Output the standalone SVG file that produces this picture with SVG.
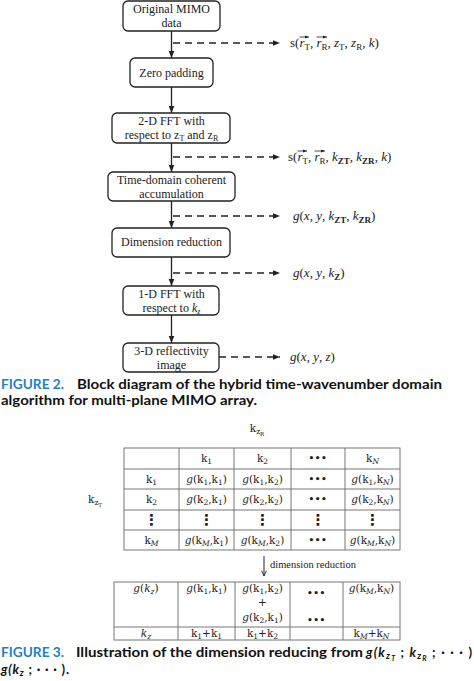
<svg xmlns="http://www.w3.org/2000/svg" width="474" height="681" viewBox="0 0 474 681">
<style>
.bx{fill:#fff;stroke:#222;stroke-width:1.3}
.bt{font-family:"Liberation Serif",serif;font-size:12px;fill:#222;text-anchor:middle}
.ln{stroke:#222;stroke-width:1.3;fill:none}
.dl{stroke:#222;stroke-width:1.3;fill:none;stroke-dasharray:7,5}
.m{font-family:"Liberation Serif",serif;font-size:13px;fill:#222}
.i{font-style:italic}
.sb{font-size:9px}
.cap{font-family:Lato,"Open Sans",sans-serif;font-weight:700;font-size:13px;fill:#111}
.blue{fill:#1f82c4}
.tl{stroke:#777;stroke-width:1;fill:none}
.t{font-family:"DejaVu Serif",serif;font-size:10.5px;fill:#222;text-anchor:middle}
.s{font-size:7.5px}
.dots{font-family:"DejaVu Sans",sans-serif;font-size:9px;fill:#222;text-anchor:middle;letter-spacing:0.5px;font-weight:700}
.vd{font-family:"DejaVu Sans",sans-serif;font-size:15px;fill:#222;text-anchor:middle;font-weight:700}
</style>
<defs>
<marker id="ah" viewBox="0 0 10 10" refX="10" refY="5" markerWidth="7" markerHeight="7" markerUnits="userSpaceOnUse" orient="auto"><path d="M0,1 L10,5 L0,9 z" fill="#222"/></marker>
<marker id="oa" viewBox="0 0 10 10" refX="10" refY="5" markerWidth="4" markerHeight="4" markerUnits="userSpaceOnUse" orient="auto"><path d="M0,1 L10,5 L0,9 z" fill="#222"/></marker>
<marker id="va" viewBox="0 0 10 10" refX="10" refY="5" markerWidth="6" markerHeight="6" markerUnits="userSpaceOnUse" orient="auto"><path d="M1,1 L10,5 L1,9" fill="none" stroke="#222" stroke-width="1.4"/></marker>
</defs>

<g id="connectors">
<line class="ln" x1="171.5" y1="31" x2="171.5" y2="58" marker-end="url(#ah)"/>
<line class="ln" x1="171.5" y1="87" x2="171.5" y2="113" marker-end="url(#ah)"/>
<line class="ln" x1="171.5" y1="143" x2="171.5" y2="172" marker-end="url(#ah)"/>
<line class="ln" x1="171.5" y1="201" x2="171.5" y2="228" marker-end="url(#ah)"/>
<line class="ln" x1="171.5" y1="257" x2="171.5" y2="286" marker-end="url(#ah)"/>
<line class="ln" x1="171.5" y1="315" x2="171.5" y2="343" marker-end="url(#ah)"/>
<line class="dl" x1="173" y1="43" x2="280" y2="43" marker-end="url(#ah)"/>
<line class="dl" x1="173" y1="157" x2="280" y2="157" marker-end="url(#ah)"/>
<line class="dl" x1="173" y1="216" x2="280" y2="216" marker-end="url(#ah)"/>
<line class="dl" x1="173" y1="273" x2="280" y2="273" marker-end="url(#ah)"/>
<line class="dl" x1="219" y1="357" x2="280" y2="357" marker-end="url(#ah)"/>
<line x1="264" y1="556" x2="264" y2="576" stroke="#222" stroke-width="1" marker-end="url(#va)"/>
</g>

<g id="n1"><rect class="bx" x="123" y="1" width="97" height="30" rx="5"/>
<text class="bt" x="171.5" y="13">Original MIMO</text><text class="bt" x="171.5" y="27">data</text></g>
<g id="n2"><rect class="bx" x="130" y="58" width="83" height="29" rx="5"/>
<text class="bt" x="171.5" y="77">Zero padding</text></g>
<g id="n3"><rect class="bx" x="112" y="113" width="118" height="30" rx="5"/>
<text class="bt" x="171.5" y="125">2-D FFT with</text>
<text class="bt" x="171.5" y="139">respect to z<tspan font-size="8" dy="2">T</tspan><tspan dy="-2"> and z</tspan><tspan font-size="8" dy="2">R</tspan></text></g>
<g id="n4"><rect class="bx" x="108" y="172" width="127" height="29" rx="5"/>
<text class="bt" x="171.5" y="184">Time-domain coherent</text><text class="bt" x="171.5" y="198">accumulation</text></g>
<g id="n5"><rect class="bx" x="112" y="228" width="118" height="29" rx="5"/>
<text class="bt" x="171.5" y="246">Dimension reduction</text></g>
<g id="n6"><rect class="bx" x="123" y="286" width="96" height="29" rx="5"/>
<text class="bt" x="171.5" y="298">1-D FFT with</text>
<text class="bt" x="171.5" y="312">respect to <tspan class="i">k</tspan><tspan font-size="8" dy="2" class="i">z</tspan></text></g>
<g id="n7"><rect class="bx" x="123" y="343" width="96" height="29" rx="5"/>
<text class="bt" x="171.5" y="355">3-D reflectivity</text><text class="bt" x="171.5" y="369">image</text></g>

<g id="f1">
<text class="m" x="290" y="47">s(<tspan class="i">r</tspan><tspan class="sb" dy="3">T</tspan><tspan dy="-3">, </tspan><tspan class="i">r</tspan><tspan class="sb" dy="3">R</tspan><tspan dy="-3">, </tspan><tspan class="i">z</tspan><tspan class="sb" dy="3">T</tspan><tspan dy="-3">, </tspan><tspan class="i">z</tspan><tspan class="sb" dy="3">R</tspan><tspan dy="-3">, </tspan><tspan class="i">k</tspan>)</text>
<line x1="299.5" y1="37" x2="309" y2="37" stroke="#222" stroke-width="0.8" marker-end="url(#oa)"/>
<line x1="316.5" y1="37" x2="327" y2="37" stroke="#222" stroke-width="0.8" marker-end="url(#oa)"/>
</g>
<g id="f2">
<text class="m" x="288" y="161">s(<tspan class="i">r</tspan><tspan class="sb" dy="3">T</tspan><tspan dy="-3">, </tspan><tspan class="i">r</tspan><tspan class="sb" dy="3">R</tspan><tspan dy="-3">, </tspan><tspan class="i">k</tspan><tspan class="sb" dy="3" font-weight="700">ZT</tspan><tspan dy="-3">, </tspan><tspan class="i">k</tspan><tspan class="sb" dy="3" font-weight="700">ZR</tspan><tspan dy="-3">, </tspan><tspan class="i">k</tspan>)</text>
<line x1="297.5" y1="151" x2="307" y2="151" stroke="#222" stroke-width="0.8" marker-end="url(#oa)"/>
<line x1="314.5" y1="151" x2="325" y2="151" stroke="#222" stroke-width="0.8" marker-end="url(#oa)"/>
</g>
<g id="f3"><text class="m" x="293" y="220"><tspan class="i">g</tspan>(<tspan class="i">x</tspan>, <tspan class="i">y</tspan>, <tspan class="i">k</tspan><tspan class="sb" dy="3" font-weight="700">ZT</tspan><tspan dy="-3">, </tspan><tspan class="i">k</tspan><tspan class="sb" dy="3" font-weight="700">ZR</tspan><tspan dy="-3">)</tspan></text></g>
<g id="f4"><text class="m" x="293" y="277"><tspan class="i">g</tspan>(<tspan class="i">x</tspan>, <tspan class="i">y</tspan>, <tspan class="i">k</tspan><tspan class="sb" dy="3" font-weight="700">Z</tspan><tspan dy="-3">)</tspan></text></g>
<g id="f5"><text class="m" x="290" y="361"><tspan class="i">g</tspan>(<tspan class="i">x</tspan>, <tspan class="i">y</tspan>, <tspan class="i">z</tspan>)</text></g>

<g id="caption2">
<text class="cap blue" x="1" y="389" textLength="63" lengthAdjust="spacingAndGlyphs">FIGURE 2.</text>
<text class="cap" x="77" y="389" textLength="365" lengthAdjust="spacingAndGlyphs">Block diagram of the hybrid time-wavenumber domain</text>
<text class="cap" x="1" y="405" textLength="256" lengthAdjust="spacingAndGlyphs">algorithm for multi-plane MIMO array.</text>
</g>

<g id="table1">
<text class="t" x="257" y="432">k<tspan class="s" dy="2">z</tspan><tspan font-size="5.5" dy="1.5">R</tspan></text>
<text class="t" x="95" y="503">k<tspan class="s" dy="2">z</tspan><tspan font-size="5.5" dy="1.5">T</tspan></text>
<rect class="tl" x="124" y="448" width="276" height="102"/>
<path class="tl" d="M179,448V550M234,448V550M291,448V550M345,448V550M124,469H400M124,489H400M124,510H400M124,530H400"/>
<text class="t" x="206.5" y="462">k<tspan class="s" dy="2">1</tspan></text>
<text class="t" x="262.5" y="462">k<tspan class="s" dy="2">2</tspan></text>
<text class="dots" x="318" y="461">•••</text>
<text class="t" x="372.5" y="462">k<tspan class="s i" dy="2">N</tspan></text>

<text class="t" x="151.5" y="483">k<tspan class="s" dy="2">1</tspan></text>
<text class="t" x="206.5" y="483"><tspan class="i">g</tspan>(k<tspan class="s" dy="2">1</tspan><tspan dy="-2">,k</tspan><tspan class="s" dy="2">1</tspan><tspan dy="-2">)</tspan></text>
<text class="t" x="262.5" y="483"><tspan class="i">g</tspan>(k<tspan class="s" dy="2">1</tspan><tspan dy="-2">,k</tspan><tspan class="s" dy="2">2</tspan><tspan dy="-2">)</tspan></text>
<text class="dots" x="318" y="482">•••</text>
<text class="t" x="372.5" y="483"><tspan class="i">g</tspan>(k<tspan class="s" dy="2">1</tspan><tspan dy="-2">,k</tspan><tspan class="s i" dy="2">N</tspan><tspan dy="-2">)</tspan></text>

<text class="t" x="151.5" y="503">k<tspan class="s" dy="2">2</tspan></text>
<text class="t" x="206.5" y="503"><tspan class="i">g</tspan>(k<tspan class="s" dy="2">2</tspan><tspan dy="-2">,k</tspan><tspan class="s" dy="2">1</tspan><tspan dy="-2">)</tspan></text>
<text class="t" x="262.5" y="503"><tspan class="i">g</tspan>(k<tspan class="s" dy="2">2</tspan><tspan dy="-2">,k</tspan><tspan class="s" dy="2">2</tspan><tspan dy="-2">)</tspan></text>
<text class="dots" x="318" y="502">•••</text>
<text class="t" x="372.5" y="503"><tspan class="i">g</tspan>(k<tspan class="s" dy="2">2</tspan><tspan dy="-2">,k</tspan><tspan class="s i" dy="2">N</tspan><tspan dy="-2">)</tspan></text>

<text class="vd" x="151.5" y="525">⋮</text>
<text class="vd" x="206.5" y="525">⋮</text>
<text class="vd" x="262.5" y="525">⋮</text>
<text class="vd" x="318" y="525">⋮</text>
<text class="vd" x="372.5" y="525">⋮</text>

<text class="t" x="151.5" y="544">k<tspan class="s i" dy="2">M</tspan></text>
<text class="t" x="206.5" y="544"><tspan class="i">g</tspan>(k<tspan class="s i" dy="2">M</tspan><tspan dy="-2">,k</tspan><tspan class="s" dy="2">1</tspan><tspan dy="-2">)</tspan></text>
<text class="t" x="262.5" y="544"><tspan class="i">g</tspan>(k<tspan class="s i" dy="2">M</tspan><tspan dy="-2">,k</tspan><tspan class="s" dy="2">2</tspan><tspan dy="-2">)</tspan></text>
<text class="dots" x="318" y="543">•••</text>
<text class="t" x="372.5" y="544"><tspan class="i">g</tspan>(k<tspan class="s i" dy="2">M</tspan><tspan dy="-2">,k</tspan><tspan class="s i" dy="2">N</tspan><tspan dy="-2">)</tspan></text>
</g>

<text id="dimlabel" x="270" y="568" font-family="Liberation Serif, serif" font-size="10.5" fill="#222">dimension reduction</text>

<g id="table2">
<rect class="tl" x="114" y="582" width="286" height="58"/>
<path class="tl" d="M178,582V640M235,582V640M290,582V640M343,582V640M114,627H400"/>
<text class="t" x="146" y="592"><tspan class="i">g</tspan>(<tspan class="i">k</tspan><tspan class="s i" dy="2">z</tspan><tspan dy="-2">)</tspan></text>
<text class="t" x="206.5" y="592"><tspan class="i">g</tspan>(k<tspan class="s" dy="2">1</tspan><tspan dy="-2">,k</tspan><tspan class="s" dy="2">1</tspan><tspan dy="-2">)</tspan></text>
<text class="t" x="262.5" y="592"><tspan class="i">g</tspan>(k<tspan class="s" dy="2">1</tspan><tspan dy="-2">,k</tspan><tspan class="s" dy="2">2</tspan><tspan dy="-2">)</tspan></text>
<text class="t" x="262.5" y="606" font-size="9">+</text>
<text class="t" x="262.5" y="621"><tspan class="i">g</tspan>(k<tspan class="s" dy="2">2</tspan><tspan dy="-2">,k</tspan><tspan class="s" dy="2">1</tspan><tspan dy="-2">)</tspan></text>
<text class="dots" x="316.5" y="596">•••</text>
<text class="dots" x="316.5" y="623">•••</text>
<text class="t" x="371.5" y="592"><tspan class="i">g</tspan>(k<tspan class="s i" dy="2">M</tspan><tspan dy="-2">,k</tspan><tspan class="s i" dy="2">N</tspan><tspan dy="-2">)</tspan></text>
<text class="t" x="146" y="637" font-size="10"><tspan class="i">k</tspan><tspan class="s i" dy="2">z</tspan></text>
<text class="t" x="206.5" y="637" font-size="10">k<tspan class="s" dy="2">1</tspan><tspan dy="-2">+k</tspan><tspan class="s" dy="2">1</tspan></text>
<text class="t" x="262.5" y="637" font-size="10">k<tspan class="s" dy="2">1</tspan><tspan dy="-2">+k</tspan><tspan class="s" dy="2">2</tspan></text>
<text class="t" x="371.5" y="637" font-size="10">k<tspan class="s i" dy="2">M</tspan><tspan dy="-2">+k</tspan><tspan class="s i" dy="2">N</tspan></text>
</g>

<g id="caption3">
<text class="cap blue" x="1" y="657" textLength="63" lengthAdjust="spacingAndGlyphs">FIGURE 3.</text>
<text class="cap" x="76" y="657" textLength="287" lengthAdjust="spacingAndGlyphs">Illustration of the dimension reducing from</text>
<text class="cap" x="366" y="657" font-style="italic" font-size="14" textLength="106" lengthAdjust="spacing">g(k<tspan font-size="9" dy="2">z</tspan><tspan font-size="7" dy="2">T</tspan><tspan dy="-4" font-style="normal"> ; </tspan>k<tspan font-size="9" dy="2">z</tspan><tspan font-size="7" dy="2">R</tspan><tspan dy="-4" font-style="normal"> ; · · · )</tspan></text>
<text class="cap" x="1" y="674" font-style="italic" font-size="14" textLength="68" lengthAdjust="spacing">g(k<tspan font-size="9" dy="2">z</tspan><tspan dy="-2" font-style="normal"> ; · · · ).</tspan></text>
</g>
</svg>
